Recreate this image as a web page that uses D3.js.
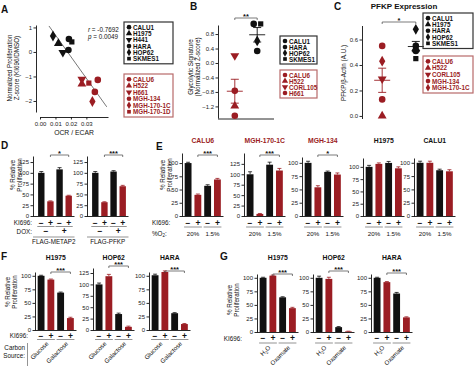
<!DOCTYPE html>
<html>
<head>
<meta charset="utf-8">
<script src="https://cdn.jsdelivr.net/npm/d3@7.9.0/dist/d3.min.js"></script>
<style>
  body { margin: 0; background: #fff; }
  svg { display: block; }
</style>
</head>
<body>
<div id="chart"></div>
<script>
// ---------- data ----------
// A: OCR/ECAR vs normalized proliferation z-score
const aBlackCells = ['CALU1', 'H1975', 'H441', 'HARA', 'HOP62', 'SKMES1'];
const aBlackShapes = ['circle', 'triangle', 'invtri', 'circle', 'diamond', 'square'];
const aBlackX = [0.0184, 0.0119, 0.0148, 0.0187, 0.0084, 0.0206];
const aBlackY = [0.08, 0.35, -0.02, 0.53, 0.65, 0.41];
const aRedCells = ['CALU6', 'H522', 'H661', 'MGH-134', 'MGH-170-1C', 'MGH-170-1D'];
const aRedShapes = ['circle', 'triangle', 'invtri', 'circle', 'diamond', 'square'];
const aRedX = [0.0374, 0.0271, 0.0271, 0.0355, 0.0339, 0.0316];
const aRedY = [-1.14, -1.31, -1.12, -1.63, -2.02, -1.27];
const aFitX = [0.0058, 0.0432];
const aFitY = [1.06, -2.24];
const aXTicks = [0, 0.01, 0.02, 0.03];
const aYTicks = [-2, -1, 0, 1];

// B: glycolytic signature
const bBlackCells = ['CALU1', 'HARA', 'HOP62', 'SKMES1'];
const bBlackShapes = ['circle', 'circle', 'diamond', 'square'];
const bBlackVals = [1.08, 0.33, 0.61, 1.08];
const bRedCells = ['CALU6', 'H522', 'CORL105', 'H661'];
const bRedShapes = ['circle', 'triangle', 'invtri', 'circle'];
const bRedVals = [-0.77, -1.19, 0.2, -1.46];
const bMean = [-0.78, 0.78];
const bSem = [0.33, 0.2];
const bTicks = [-1.2, -0.8, -0.4, 0, 0.4, 0.8];

// C: PFKP expression
const cBlackCells = ['CALU1', 'H1975', 'HARA', 'HOP62', 'SKMES1'];
const cBlackShapes = ['circle', 'triangle', 'circle', 'diamond', 'square'];
const cBlackVals = [0.55, 0.53, 0.51, 0.68, 0.45];
const cRedCells = ['CALU6', 'H522', 'CORL105', 'MGH-134', 'MGH-170-1C'];
const cRedShapes = ['circle', 'triangle', 'invtri', 'circle', 'diamond'];
const cRedVals = [0.55, 0.0, 0.29, 0.13, 0.43];
const cMean = [0.28, 0.545];
const cSem = [0.095, 0.04];
const cTicks = [0, 0.2, 0.4, 0.6];

// bar panels: order is [-, +, -, +] for KI696
const kiSigns = ['\u2212', '+', '\u2212', '+'];

const dGroups = ['FLAG-METAP2', 'FLAG-PFKP'];
const dVals = [[100, 34, 108, 47], [100, 32, 103, 69]];
const dErrs = [[3, 1, 4, 1], [3, 1, 2, 2]];
const dSig = ['*', '***'];
const dDox = ['\u2212', '+'];
const dTicks = [0, 25, 50, 75, 100, 125];

const eCells = ['CALU6', 'MGH-170-1C', 'MGH-134', 'H1975', 'CALU1'];
const eCellRed = [true, true, true, false, false];
const eVals = [[100, 40, 57, 69], [100, 5, 123, 109], [100, 54, 83, 78], [100, 106, 108, 97], [100, 100, 86, 84]];
const eErrs = [[1.5, 1.5, 2, 2], [6, 1, 6, 5], [3, 3, 1.5, 3], [3, 2, 3, 3], [3, 3, 2, 3]];
const eSig = ['***', '***', '*', '', ''];
const eMax = [119, 151, 111, 118, 109];
const eTicks = [[0, 25, 50, 75, 100], [0, 25, 50, 75, 100, 125], [0, 25, 50, 75, 100], [0, 25, 50, 75, 100], [0, 25, 50, 75, 100]];
const eO2 = ['20%', '1.5%'];

const fCells = ['H1975', 'HOP62', 'HARA'];
const fVals = [[100, 93, 69, 22], [100, 118, 35, 7], [101, 107, 31, 11]];
const fErrs = [[1, 1, 1, 1.5], [3, 4, 2, 1.5], [2, 2, 1, 1]];
const fMax = [107, 136, 107];
const fTicks = [[0, 25, 50, 75, 100], [0, 25, 50, 75, 100, 125], [0, 25, 50, 75, 100]];
const fCarbon = ['Glucose', 'Galactose'];

const gCells = ['H1975', 'HOP62', 'HARA'];
const gVals = [[100, 104, 64, 44], [100, 98, 9, 1], [100, 92, 71, 27]];
const gErrs = [[1, 1, 1, 1.5], [3, 3, 1, 0.5], [1, 1, 2, 1]];
const gTicks = [0, 25, 50, 75, 100];

// ---------- drawing ----------
const FONT = '"Liberation Sans", Arial, Helvetica, sans-serif';
const INK = '#111', RED = '#9b1d23', RED_BOX = '#b86a6a';

const svg = d3.select('#chart').append('svg')
  .attr('width', 474).attr('height', 366)
  .style('font-family', FONT);

function label(g, x, y, s, o = {}) {
  return g.append('text')
    .attr('x', x).attr('y', y).text(s)
    .attr('font-size', o.size || 6.5)
    .attr('font-weight', o.bold ? 'bold' : null)
    .attr('font-style', o.italic ? 'italic' : null)
    .attr('text-anchor', o.anchor || 'start')
    .attr('dominant-baseline', o.base || null)
    .attr('fill', o.color || INK)
    .attr('transform', o.rotate != null ? `rotate(${o.rotate},${x},${y})` : null);
}

function styleAxis(sel) {
  sel.attr('font-family', FONT).attr('font-size', 6);
  sel.select('.domain').attr('stroke', INK).attr('stroke-width', 0.9);
  sel.selectAll('.tick line').attr('stroke', INK).attr('stroke-width', 0.9);
  sel.selectAll('.tick text').attr('fill', '#222');
}

const shapeType = {
  circle: d3.symbolCircle, triangle: d3.symbolTriangle, invtri: d3.symbolTriangle,
  diamond: d3.symbolDiamond, square: d3.symbolSquare
};
function drawSymbol(g, shape, x, y, size, color) {
  g.append('path')
    .attr('d', d3.symbol(shapeType[shape], shape === 'square' ? size * 0.8 : size)())
    .attr('transform', `translate(${x},${y})` + (shape === 'invtri' ? ' rotate(180)' : ''))
    .attr('fill', color);
}

function legendBox(x0, y0, w, rowH, names, shapes, red) {
  const g = svg.append('g');
  g.append('rect').attr('x', x0).attr('y', y0).attr('width', w)
    .attr('height', names.length * rowH + 4)
    .attr('fill', 'none').attr('stroke', red ? RED_BOX : '#333').attr('stroke-width', 1.2);
  const row = d3.scalePoint().domain(names)
    .range([y0 + 2 + rowH / 2, y0 + 2 + rowH * (names.length - 0.5)]);
  names.forEach((n, i) => {
    drawSymbol(g, shapes[i], x0 + 5, row(n), 17, red ? RED : INK);
    label(g, x0 + 9, row(n), n, { size: 6.3, bold: true, base: 'central', color: red ? RED : INK });
  });
}

function bracket(g, x1, x2, y, stars) {
  g.append('path').attr('d', `M${x1},${y + 2}V${y}H${x2}V${y + 2}`)
    .attr('fill', 'none').attr('stroke', '#444').attr('stroke-width', 0.7);
  label(g, (x1 + x2) / 2, y + 0.5, stars, { size: 7.5, bold: true, anchor: 'middle' });
}

// panel letters
[['A', 1, 13], ['B', 190, 10], ['C', 334, 10], ['D', 1, 149], ['E', 156, 150], ['F', 1, 260], ['G', 220, 260]]
  .forEach(([t, x, y]) => label(svg, x, y, t, { size: 10, bold: true }));

// ---- A ----
{
  const g = svg.append('g');
  const x = d3.scaleLinear().domain([0, 0.044]).range([40, 108]);
  const y = d3.scaleLinear().domain([-2.45, 1.1]).range([112, 25]);
  g.append('g').attr('transform', 'translate(36,0)')
    .call(d3.axisLeft(y).tickValues(aYTicks).tickFormat(d3.format('d')).tickSize(2.5).tickSizeOuter(0).tickPadding(1.5))
    .call(styleAxis);
  g.append('g').attr('transform', 'translate(0,117)')
    .call(d3.axisBottom(x).tickValues(aXTicks).tickFormat(d3.format('.2f')).tickSize(2.5).tickSizeOuter(0).tickPadding(2))
    .call(styleAxis);
  g.append('line')
    .attr('x1', x(aFitX[0])).attr('y1', y(aFitY[0]))
    .attr('x2', x(aFitX[1])).attr('y2', y(aFitY[1]))
    .attr('stroke', '#555').attr('stroke-width', 0.8);
  aBlackCells.forEach((c, i) => drawSymbol(g, aBlackShapes[i], x(aBlackX[i]), y(aBlackY[i]), 34, INK));
  aRedCells.forEach((c, i) => drawSymbol(g, aRedShapes[i], x(aRedX[i]), y(aRedY[i]), 34, RED));
  const t1 = label(g, 88, 32, '', { size: 6.3 });
  t1.append('tspan').attr('font-style', 'italic').text('r');
  t1.append('tspan').text(' = -0.7692');
  const t2 = label(g, 88, 39, '', { size: 6.3 });
  t2.append('tspan').attr('font-style', 'italic').text('p');
  t2.append('tspan').text(' = 0.0049');
  label(g, 74, 135, 'OCR / ECAR', { size: 6.8, anchor: 'middle' });
  label(g, 12, 68, 'Normalized Proliferation', { size: 6.3, anchor: 'middle', rotate: -90 });
  label(g, 19, 68, 'Z-score (KI696/DMSO)', { size: 6.3, anchor: 'middle', rotate: -90 });
  legendBox(124, 22, 49, 6.3, aBlackCells, aBlackShapes, false);
  legendBox(124, 74, 49, 6.5, aRedCells, aRedShapes, true);
}

// dot plot (B, C)
function dotPlot(o) {
  const g = svg.append('g');
  const y = d3.scaleLinear().domain(o.domain).range([o.bottom, o.top]);
  const x = d3.scalePoint().domain(['red', 'black']).range(o.xRange).padding(o.pad);
  g.append('g').attr('transform', `translate(${o.xRange[0]},0)`)
    .call(d3.axisLeft(y).tickValues(o.ticks).tickFormat(d3.format('.1f')).tickSize(2.5).tickSizeOuter(0).tickPadding(1.5))
    .call(styleAxis);
  if (o.xAxis) {
    g.append('line').attr('x1', o.xRange[0]).attr('x2', o.xRange[1])
      .attr('y1', o.bottom + 1).attr('y2', o.bottom + 1).attr('stroke', INK).attr('stroke-width', 0.9);
  }
  [['red', o.redVals, o.redShapes, RED, 0], ['black', o.blackVals, o.blackShapes, INK, 1]]
    .forEach(([grp, vals, shapes, col, k]) => {
      const cx = x(grp);
      // spread points that sit at the same height
      const off = vals.map(() => 0);
      vals.forEach((v, i) => vals.forEach((w, j) => {
        if (j > i && Math.abs(y(v) - y(w)) < 1.5) { off[i] = -3.5; off[j] = 3.5; }
      }));
      vals.forEach((v, i) => drawSymbol(g, shapes[i], cx + off[i], y(v), 34, col));
      const m = o.mean[k], s = o.sem[k];
      g.append('line').attr('x1', cx - 8).attr('x2', cx + 8).attr('y1', y(m)).attr('y2', y(m))
        .attr('stroke', col).attr('stroke-width', 0.9);
      g.append('line').attr('x1', cx).attr('x2', cx).attr('y1', y(m - s)).attr('y2', y(m + s))
        .attr('stroke', col).attr('stroke-width', 0.9);
      [m - s, m + s].forEach(v => g.append('line').attr('x1', cx - 4).attr('x2', cx + 4)
        .attr('y1', y(v)).attr('y2', y(v)).attr('stroke', col).attr('stroke-width', 0.9));
    });
  bracket(g, x('red'), x('black'), o.sigY, o.sig);
  return g;
}

// ---- B ----
{
  const g = dotPlot({
    domain: [-1.52, 1.05], bottom: 118, top: 25, xRange: [218, 274], pad: 0.75, ticks: bTicks,
    redVals: bRedVals, redShapes: bRedShapes, blackVals: bBlackVals, blackShapes: bBlackShapes,
    mean: bMean, sem: bSem, sig: '**', sigY: 18, xAxis: true
  });
  label(g, 193, 67, 'Glycolytic Signature', { size: 6.3, anchor: 'middle', rotate: -90 });
  label(g, 200, 67, '(Normalized Z-score)', { size: 6.3, anchor: 'middle', rotate: -90 });
  legendBox(280, 36, 37, 6, bBlackCells, bBlackShapes, false);
  legendBox(280, 70, 37, 6, bRedCells, bRedShapes, true);
}

// ---- C ----
{
  const g = dotPlot({
    domain: [-0.02, 0.71], bottom: 118.5, top: 25.5, xRange: [362, 436], pad: 0.6, ticks: cTicks,
    redVals: cRedVals, redShapes: cRedShapes, blackVals: cBlackVals, blackShapes: cBlackShapes,
    mean: cMean, sem: cSem, sig: '*', sigY: 22, xAxis: false
  });
  label(g, 404, 9, 'PFKP Expression', { size: 8, bold: true, anchor: 'middle' });
  label(g, 346, 73, 'PFKP/\u03b2-Actin (A.U.)', { size: 6.3, anchor: 'middle', rotate: -90 });
  legendBox(423, 13, 50, 6.3, cBlackCells, cBlackShapes, false);
  legendBox(423, 56, 50, 6.6, cRedCells, cRedShapes, true);
}

// bar plot used by D, E, F, G
function barPlot(o) {
  const g = svg.append('g');
  const y = d3.scaleLinear().domain([0, o.yMax]).range([o.zero, o.top]);
  const x0 = o.x + (o.inset ?? 1.5);
  const x = d3.scaleBand().domain(d3.range(o.vals.length))
    .range([x0, x0 + (o.len ?? 38.5)]).paddingInner(0.3).paddingOuter(0.12);
  const bw = x.bandwidth();
  const cx = i => x(i) + bw / 2;
  const colorOf = i => (i % 2 ? RED : INK);
  const right = x.range()[1] + 1.5;
  g.append('g').attr('transform', `translate(${o.x},0)`)
    .call(d3.axisLeft(y).tickValues(o.ticks).tickSize(2.5).tickSizeOuter(0).tickPadding(1.5))
    .call(styleAxis);
  g.append('line').attr('x1', o.x).attr('x2', right).attr('y1', o.zero + 0.5).attr('y2', o.zero + 0.5)
    .attr('stroke', INK).attr('stroke-width', 0.9);
  g.selectAll('rect').data(o.vals).join('rect')
    .attr('x', (d, i) => x(i)).attr('y', d => y(d))
    .attr('width', bw).attr('height', d => y(0) - y(d))
    .attr('fill', (d, i) => colorOf(i));
  o.vals.forEach((v, i) => {
    const top = y(v + o.errs[i]);
    g.append('line').attr('x1', cx(i)).attr('x2', cx(i)).attr('y1', y(v)).attr('y2', top)
      .attr('stroke', colorOf(i)).attr('stroke-width', 0.8);
    g.append('line').attr('x1', cx(i) - 2).attr('x2', cx(i) + 2).attr('y1', top).attr('y2', top)
      .attr('stroke', colorOf(i)).attr('stroke-width', 0.8);
  });
  kiSigns.forEach((s, i) => label(g, cx(i), o.zero + o.signDy, s, { size: 8.5, bold: true, anchor: 'middle', base: 'central' }));
  const pairMid = [0, 1].map(p => (cx(2 * p) + cx(2 * p + 1)) / 2);
  [0, 1].forEach(p => g.append('line')
    .attr('x1', cx(2 * p) - 4).attr('x2', cx(2 * p + 1) + 4)
    .attr('y1', o.zero + o.lineDy).attr('y2', o.zero + o.lineDy)
    .attr('stroke', '#666').attr('stroke-width', 0.7));
  if (o.sig) bracket(g, cx(1), cx(3), o.sigY, o.sig);
  if (o.title) label(g, (o.x + right) / 2, o.titleY, o.title, { size: 6.8, bold: true, anchor: 'middle', color: o.titleColor || INK });
  return { g, cx, pairMid, right };
}

// ---- D ----
{
  const axisX = [33, 87];
  dGroups.forEach((name, k) => {
    const p = barPlot({
      x: axisX[k], zero: 216, top: 156, yMax: 139, ticks: dTicks, vals: dVals[k], errs: dErrs[k],
      inset: 4, len: 36, signDy: 6.5, lineDy: 10.5, sig: dSig[k], sigY: 155
    });
    dDox.forEach((s, j) => label(p.g, p.pairMid[j], 231, s, { size: 8.5, bold: true, anchor: 'middle', base: 'central' }));
    p.g.append('line').attr('x1', axisX[k]).attr('x2', p.right).attr('y1', 237).attr('y2', 237)
      .attr('stroke', '#666').attr('stroke-width', 0.7);
    label(p.g, (axisX[k] + p.right) / 2, 243.5, name, { size: 6.3, anchor: 'middle' });
  });
  label(svg, 32, 222, 'KI696:', { size: 6.3, anchor: 'end', base: 'central' });
  label(svg, 32, 231, 'DOX:', { size: 6.3, anchor: 'end', base: 'central' });
  label(svg, 15, 175, '% Relative', { size: 6.3, anchor: 'middle', rotate: -90 });
  label(svg, 22, 175, 'Proliferation', { size: 6.3, anchor: 'middle', rotate: -90 });
}

// ---- E ----
{
  const axisX = [182, 244, 302, 363, 414];
  const tops = [153, 153, 157, 158, 158];
  eCells.forEach((name, k) => {
    const p = barPlot({
      x: axisX[k], zero: 216, top: tops[k], yMax: eMax[k], ticks: eTicks[k], vals: eVals[k], errs: eErrs[k],
      signDy: 6.5, lineDy: 11, sig: eSig[k], sigY: 155,
      title: name, titleY: 142.5, titleColor: eCellRed[k] ? RED : INK
    });
    eO2.forEach((s, j) => label(p.g, p.pairMid[j], 235.5, s, { size: 6.2, anchor: 'middle' }));
  });
  label(svg, 152, 222, 'KI696:', { size: 6.3, base: 'central' });
  const o2 = label(svg, 152, 235.5, '%O', { size: 6.3 });
  o2.append('tspan').attr('font-size', 4.5).attr('dy', 1.5).text('2');
  o2.append('tspan').attr('dy', -1.5).text(':');
  label(svg, 165, 175, '% Relative', { size: 6.3, anchor: 'middle', rotate: -90 });
  label(svg, 172, 175, 'Proliferation', { size: 6.3, anchor: 'middle', rotate: -90 });
}

// ---- F ----
{
  const axisX = [35, 93, 149];
  const tops = [272, 268, 272];
  const sigY = [272, 266, 271];
  fCells.forEach((name, k) => {
    const p = barPlot({
      x: axisX[k], zero: 330, top: tops[k], yMax: fMax[k], ticks: fTicks[k], vals: fVals[k], errs: fErrs[k],
      signDy: 5.5, lineDy: 9.5, sig: '***', sigY: sigY[k], title: name, titleY: 260
    });
    fCarbon.forEach((s, j) => label(p.g, p.pairMid[j] + 3, 344, s, { size: 6.2, anchor: 'end', rotate: -45 }));
  });
  label(svg, 28, 335, 'KI696:', { size: 6.3, anchor: 'end', base: 'central' });
  label(svg, 25, 350, 'Carbon', { size: 6.3, anchor: 'end' });
  label(svg, 25, 358, 'Source:', { size: 6.3, anchor: 'end' });
  svg.append('line').attr('x1', 27.5).attr('x2', 27.5).attr('y1', 343).attr('y2', 366)
    .attr('stroke', '#666').attr('stroke-width', 0.7);
  label(svg, 10, 292, '% Relative', { size: 6.3, anchor: 'middle', rotate: -90 });
  label(svg, 17, 292, 'Proliferation', { size: 6.3, anchor: 'middle', rotate: -90 });
}

// ---- G ----
{
  const axisX = [257, 313, 371];
  const sigY = [274, 271, 273];
  gCells.forEach((name, k) => {
    const p = barPlot({
      x: axisX[k], zero: 332, top: 274, yMax: 107, ticks: gTicks, vals: gVals[k], errs: gErrs[k],
      signDy: 6, lineDy: 11, sig: '***', sigY: sigY[k], title: name, titleY: 260
    });
    const h2o = label(p.g, p.pairMid[0] + 3, 348, '', { size: 6.2, anchor: 'end', rotate: -45 });
    h2o.append('tspan').text('H');
    h2o.append('tspan').attr('font-size', 4.3).attr('dy', 1.5).text('2');
    h2o.append('tspan').attr('dy', -1.5).text('O');
    label(p.g, p.pairMid[1] + 3, 348, 'Oxamate', { size: 6.2, anchor: 'end', rotate: -45 });
  });
  label(svg, 242, 338, 'KI696:', { size: 6.3, anchor: 'end', base: 'central' });
  label(svg, 232, 300, '% Relative', { size: 6.3, anchor: 'middle', rotate: -90 });
  label(svg, 239, 300, 'Proliferation', { size: 6.3, anchor: 'middle', rotate: -90 });
}
</script>
</body>
</html>
